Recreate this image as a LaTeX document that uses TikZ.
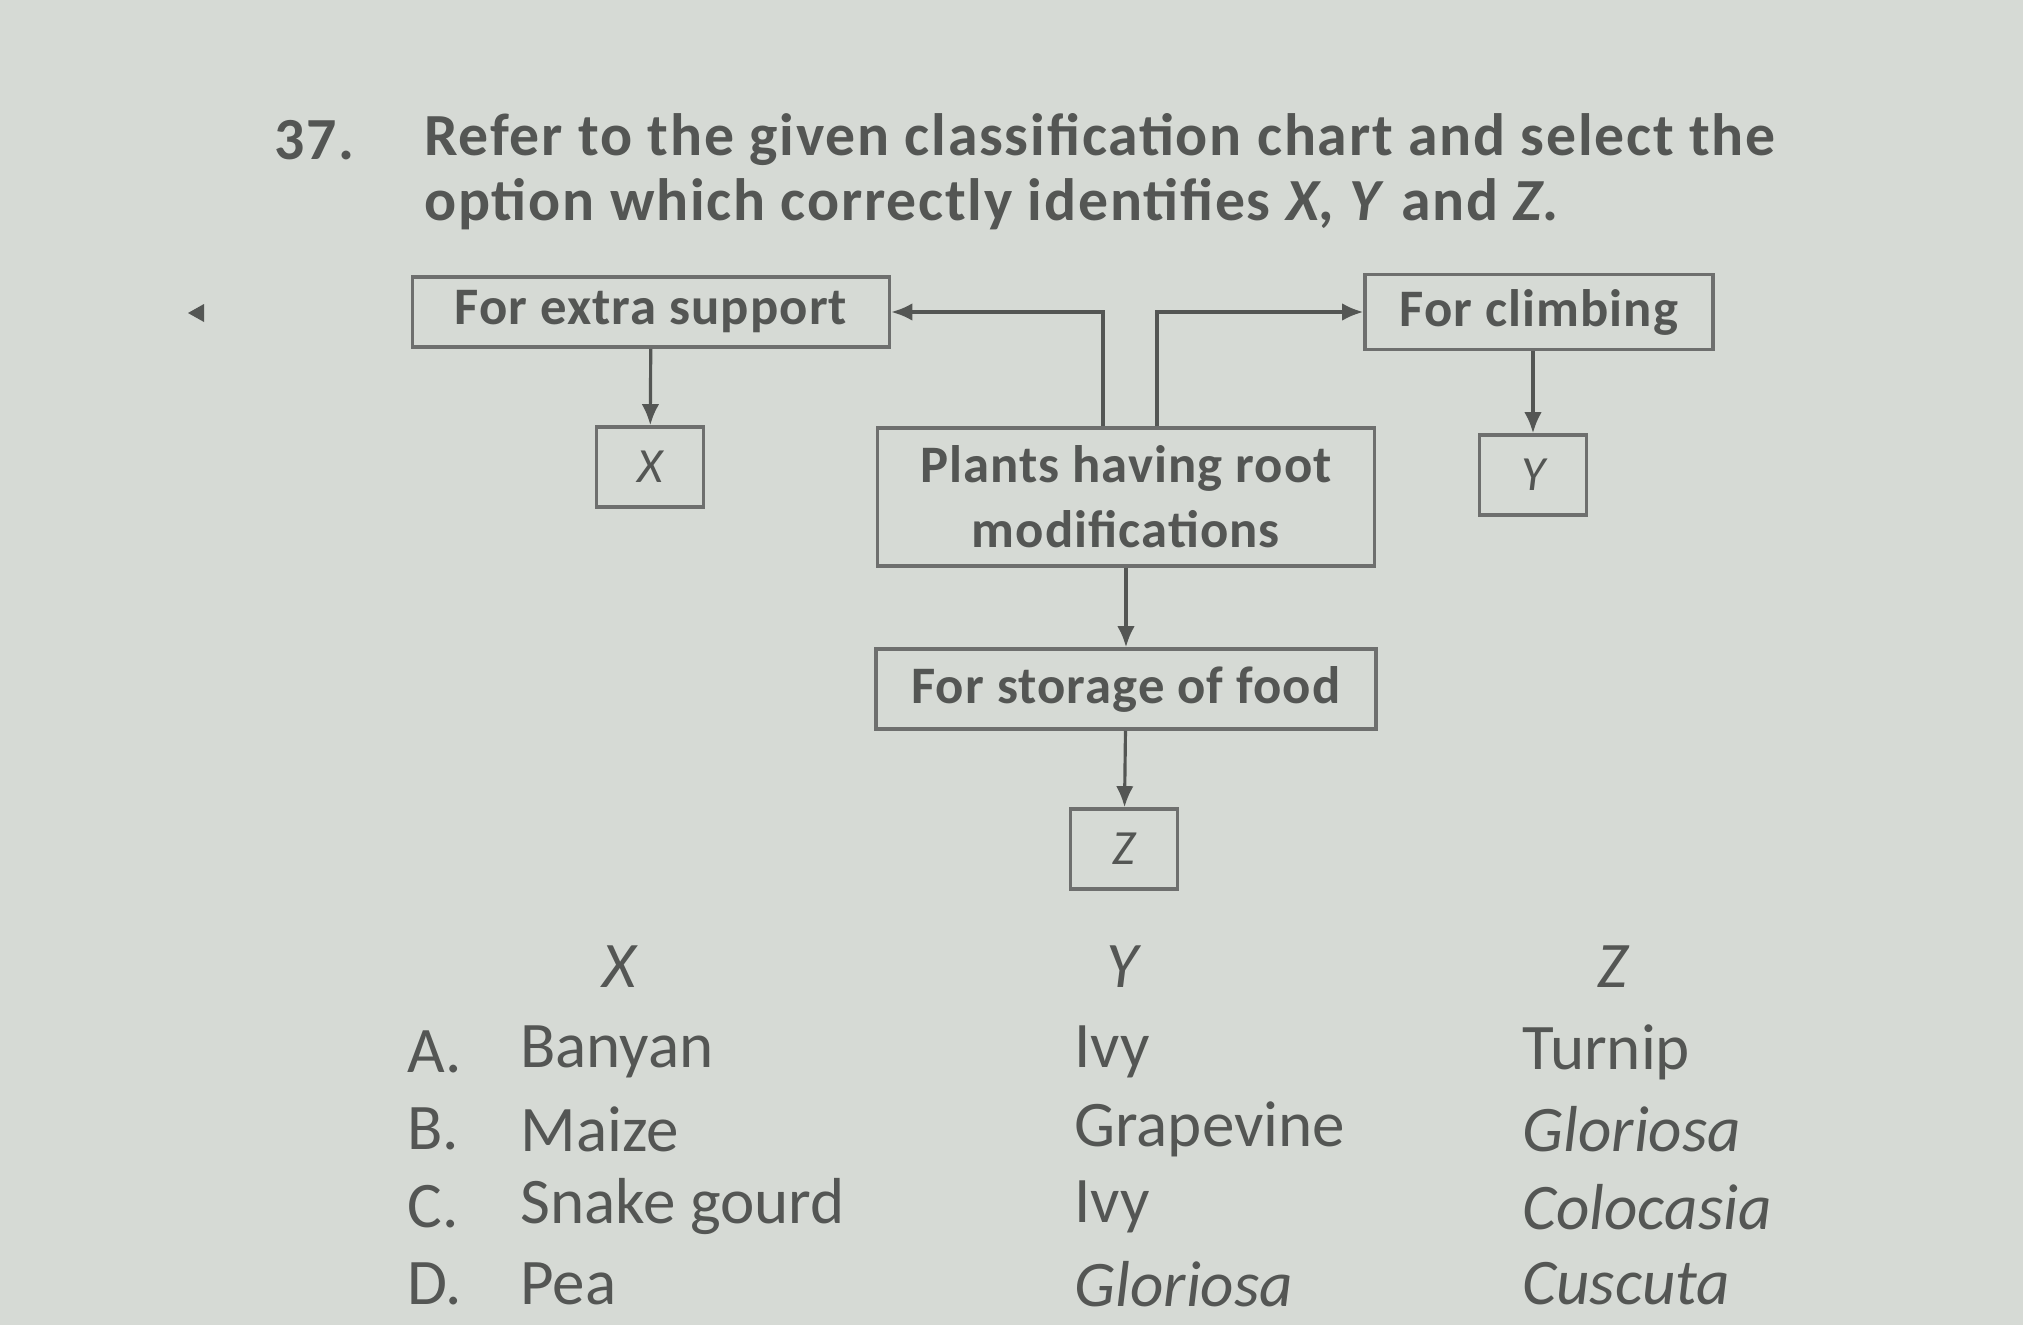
\documentclass[tikz,border=0pt]{standalone}
\usepackage{fontspec}
\setmainfont{Carlito}
\usepackage{xcolor}
\usetikzlibrary{
	positioning,    % relative placement
	arrows.meta     % arrow tips
}
\definecolor{paper}{RGB}{214,218,213}
\definecolor{ink}{RGB}{84,86,84}

\begin{document}
\begin{tikzpicture}[
		>={Latex[length=6pt,width=5pt]},
		box/.style={draw=ink!85, line width=1pt, text=ink, align=center, inner sep=0pt,
			font=\bfseries\fontsize{15}{18.5}\selectfont\addfontfeature{LetterSpace=2}},
		letterbox/.style={box, minimum width=1.07cm, minimum height=0.8cm,
			font=\itshape\fontsize{14}{17}\selectfont},
		link/.style={->, draw=ink, line width=0.9pt},
		question/.style={anchor=west, text=ink,
			font=\bfseries\fontsize{17}{20}\selectfont\addfontfeature{LetterSpace=3}},
		answer/.style={anchor=west, text=ink, font=\fontsize{18.5}{22}\selectfont},
		colhead/.style={text=ink, font=\itshape\fontsize{18.5}{22}\selectfont}
	]
	
	% --- Pagina ---
	\fill[paper] (0,0) rectangle (20.23,-13.25);
	\useasboundingbox (0,0) rectangle (20.23,-13.25);
	
	% --- Domanda ---
	\node[question] (num) at (2.62,-1.40) {37.};
	\node[question] (line1) at (4.12,-1.40) {Refer to the given classification chart and select the};
	\node[question] (line2) at (4.12,-2.04) {option which correctly identifies \textit{X}, \textit{Y} and \textit{Z}.};
	
	% segno a margine
	\fill[ink] (1.88,-3.13) -- (2.04,-3.04) -- (2.04,-3.22) -- cycle;
	
	% ==================================================================
	% --- Schema di classificazione ---
	% ==================================================================
	\node[box, minimum width=4.77cm, minimum height=0.7cm] (support) at (6.51,-3.12) {For extra support};
	\node[letterbox] (X) at (6.50,-4.67) {X};
	
	\node[box, minimum width=4.97cm, minimum height=1.38cm] (plants) at (11.26,-4.97)
		{Plants having root\\modifications};
	
	\node[box, minimum width=3.48cm, minimum height=0.75cm] (climbing) at (15.39,-3.12) {For climbing};
	\node[letterbox] (Y) at (15.33,-4.75) {Y};
	
	\node[box, minimum width=5.0cm, minimum height=0.8cm] (storage) at (11.26,-6.89) {For storage of food};
	\node[letterbox] (Z) at (11.24,-8.49) {Z};
	
	% Collegamenti
	\draw[link] ([xshift=-0.23cm]plants.north) |- (support.east);
	\draw[link] ([xshift=0.31cm]plants.north) |- (climbing.west);
	\draw[link] (support) -- (X);
	\draw[link] (climbing.south -| Y.north) -- (Y);
	\draw[link] (plants) -- (storage);
	\draw[link] (storage) -- (Z);
	
	% ==================================================================
	% --- Opzioni ---
	% ==================================================================
	\node[colhead] (hX) at (6.19,-9.67) {X};
	\node[colhead] (hY) at (11.22,-9.67) {Y};
	\node[colhead] (hZ) at (16.13,-9.67) {Z};
	
	\node[answer] (oA) at (3.95,-10.52) {A.};
	\node[answer] (oB) at (3.95,-11.29) {B.};
	\node[answer] (oC) at (3.95,-12.07) {C.};
	\node[answer] (oD) at (3.95,-12.84) {D.};
	
	\node[answer] (xA) at (5.08,-10.52) {Banyan};
	\node[answer] (xB) at (5.08,-11.29) {Maize};
	\node[answer] (xC) at (5.08,-12.07) {Snake gourd};
	\node[answer] (xD) at (5.08,-12.84) {Pea};
	
	\node[answer] (yA) at (10.62,-10.52) {Ivy};
	\node[answer] (yB) at (10.62,-11.29) {Grapevine};
	\node[answer] (yC) at (10.62,-12.07) {Ivy};
	\node[answer] (yD) at (10.62,-12.84) {\textit{Gloriosa}};
	
	\node[answer] (zA) at (15.10,-10.52) {Turnip};
	\node[answer] (zB) at (15.10,-11.29) {\textit{Gloriosa}};
	\node[answer] (zC) at (15.10,-12.07) {\textit{Colocasia}};
	\node[answer] (zD) at (15.10,-12.84) {\textit{Cuscuta}};
\end{tikzpicture}
\end{document}
